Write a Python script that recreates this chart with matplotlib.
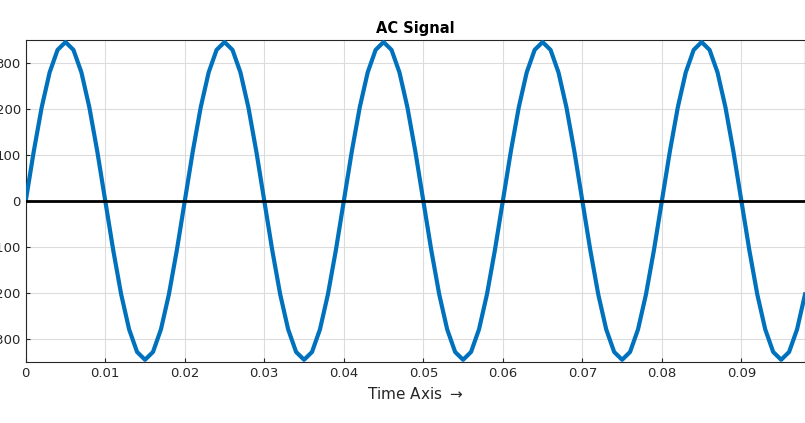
import matplotlib
matplotlib.use("Agg")
import matplotlib.pyplot as plt

time_ms = list(range(0, 99))  # sample index in milliseconds
voltage = [
    0, 107, 203, 279, 328, 345, 328, 279, 203, 107, 0, -107, -203, -279, -328, -345, -328, -279, -203, -107,
    0, 107, 203, 279, 328, 345, 328, 279, 203, 107, 0, -107, -203, -279, -328, -345, -328, -279, -203, -107,
    0, 107, 203, 279, 328, 345, 328, 279, 203, 107, 0, -107, -203, -279, -328, -345, -328, -279, -203, -107,
    0, 107, 203, 279, 328, 345, 328, 279, 203, 107, 0, -107, -203, -279, -328, -345, -328, -279, -203, -107,
    0, 107, 203, 279, 328, 345, 328, 279, 203, 107, 0, -107, -203, -279, -328, -345, -328, -279, -203,
]
xticks = [0, 0.01, 0.02, 0.03, 0.04, 0.05, 0.06, 0.07, 0.08, 0.09]
xticklabels = ["0", "0.01", "0.02", "0.03", "0.04", "0.05", "0.06", "0.07", "0.08", "0.09"]
yticks = [-300, -200, -100, 0, 100, 200, 300]

t = [m / 1000 for m in time_ms]

fig = plt.figure(figsize=(8.05, 4.23), dpi=100)
ax = fig.add_axes([0.032, 0.144, 0.968, 0.762])
ax.plot(t, voltage, color="#0072BD", lw=3, zorder=3)
ax.axhline(0, color="black", lw=2, zorder=4)
ax.set_xlim(0, 0.098)
ax.set_ylim(-350, 350)
ax.set_xticks(xticks)
ax.set_xticklabels(xticklabels)
ax.set_yticks(yticks)
ax.grid(True, color="#dcdcdc", lw=0.8)
ax.tick_params(labelsize=9.5, colors="#262626", direction="in", length=3)
for s in ax.spines.values():
    s.set_color("#262626")
    s.set_linewidth(0.8)
ax.set_title("AC Signal", fontsize=10.5, fontweight="bold", pad=5)
ax.set_xlabel("Time Axis $\\rightarrow$", fontsize=11, color="#262626")
fig.savefig("out.png", dpi=100)
